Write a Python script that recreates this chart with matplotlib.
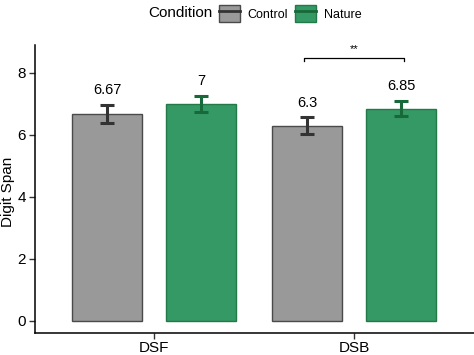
#!/usr/bin/env python3
import numpy as np
import matplotlib
matplotlib.use("Agg")
import matplotlib.pyplot as plt
from matplotlib.patches import Patch
from matplotlib.lines import Line2D

# data
tasks = ["DSF", "DSB"]
conditions = ["Control", "Nature"]
control_means = [6.67, 6.30]
nature_means = [7.00, 6.85]
control_err = [0.29, 0.27]
nature_err = [0.25, 0.25]
control_labels = ["6.67", "6.3"]
nature_labels = ["7", "6.85"]
y_ticks = [0, 2, 4, 6, 8]
signif_label = "**"


def main():
    plt.rcParams["font.family"] = ["Liberation Sans", "DejaVu Sans"]

    fill = {"Control": "#999999", "Nature": "#359966"}
    edge = {"Control": "#4a4a4a", "Nature": "#237a48"}
    errc = {"Control": "#333333", "Nature": "#17693a"}

    fig = plt.figure(figsize=(4.74, 3.55), dpi=100)
    ax = fig.add_axes([0.074, 0.062, 0.926, 0.811])

    x = np.arange(len(tasks))
    offset = 0.235
    width = 0.35

    series = [
        ("Control", control_means, control_err, control_labels, -offset),
        ("Nature", nature_means, nature_err, nature_labels, offset),
    ]
    for cond, means, errs, labels, off in series:
        xs = x + off
        ax.bar(xs, means, width=width, color=fill[cond], edgecolor=edge[cond],
               linewidth=1.0, zorder=2)
        ax.errorbar(xs, means, yerr=errs, fmt="none", ecolor=errc[cond],
                    elinewidth=2.2, capsize=5, capthick=2.2, zorder=3)
        for xi, m, e, lab in zip(xs, means, errs, labels):
            ax.text(xi, m + e + 0.25, lab, ha="center", va="bottom",
                    fontsize=10.5, color="black")

    # significance bracket over DSB
    y_br = 8.48
    x0, x1 = x[1] - 0.25, x[1] + 0.25
    ax.plot([x0, x0, x1, x1], [y_br - 0.09, y_br, y_br, y_br - 0.09],
            color="black", linewidth=0.9, zorder=3)
    ax.text((x0 + x1) / 2, y_br + 0.13, signif_label, ha="center",
            va="bottom", fontsize=8)

    ax.set_xlim(-0.595, 1.6)
    ax.set_ylim(-0.387, 8.9)
    ax.set_xticks(x)
    ax.set_xticklabels(tasks, fontsize=11)
    ax.set_yticks(y_ticks)
    ax.set_yticklabels([str(t) for t in y_ticks], fontsize=11)
    ax.set_ylabel("Digit Span", fontsize=11)
    ax.yaxis.set_label_coords(-0.046, 0.49)
    ax.tick_params(axis="both", direction="out", length=4, width=1.0,
                   color="#333333", labelcolor="black")
    ax.tick_params(axis="x", pad=1.5)
    ax.tick_params(axis="y", pad=2.5)
    for s in ["top", "right"]:
        ax.spines[s].set_visible(False)
    for s in ["left", "bottom"]:
        ax.spines[s].set_linewidth(1.1)

    # legend at the top with the title on the left
    handles = []
    for cond in conditions:
        handles.append((Patch(facecolor=fill[cond], edgecolor=edge[cond], linewidth=1.0),
                        Line2D([], [], color=errc[cond], linewidth=2.0)))
    fig.text(148 / 474, 0.963, "Condition", fontsize=11, ha="left", va="center")
    fig.legend(handles, conditions, loc="center left", bbox_to_anchor=(219 / 474, 0.962),
               ncol=2, frameon=False, fontsize=9, handlelength=1.67,
               handleheight=1.67, handletextpad=0.6, columnspacing=0.6,
               borderpad=0, borderaxespad=0)

    fig.savefig("out.png", dpi=100)


if __name__ == "__main__":
    main()
